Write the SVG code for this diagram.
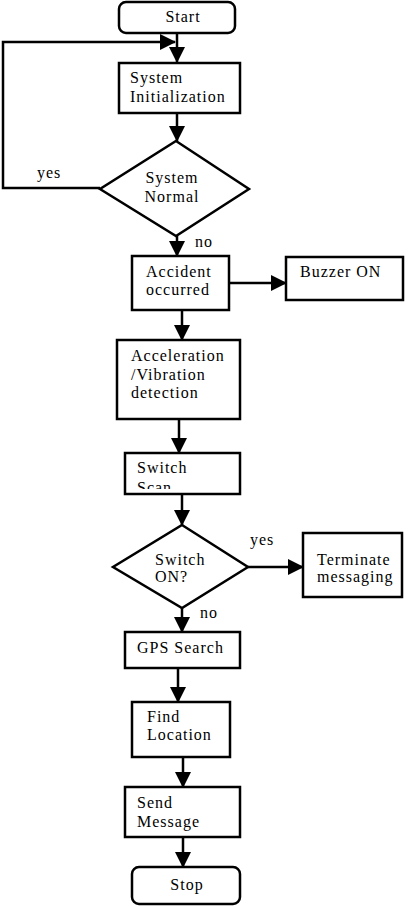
<svg xmlns="http://www.w3.org/2000/svg" width="414" height="906" viewBox="0 0 414 906">
<style>
.box{fill:#fff;stroke:#000;stroke-width:2.5}
.ln{fill:none;stroke:#000;stroke-width:2.5}
text{font-family:"Liberation Serif","Times New Roman",serif;font-size:16px;letter-spacing:1px;fill:#000}
.c{text-anchor:middle}
</style>
<defs>
<marker id="ah" markerUnits="userSpaceOnUse" markerWidth="16" markerHeight="16" refX="15" refY="8" orient="auto" viewBox="0 0 16 16">
<path d="M0,0 L16,8 L0,16 z" fill="#000"/>
</marker>
<clipPath id="scanclip"><rect x="125" y="453" width="115" height="36"/></clipPath>
</defs>
<rect width="414" height="906" fill="#fff"/>
<g id="connectors">
<line class="ln" x1="177" y1="33" x2="177" y2="62" marker-end="url(#ah)"/>
<polyline class="ln" points="100,188 3,188 3,42 175,42" marker-end="url(#ah)"/>
<line class="ln" x1="177" y1="113" x2="177" y2="141" marker-end="url(#ah)"/>
<line class="ln" x1="177" y1="236" x2="177" y2="256" marker-end="url(#ah)"/>
<line class="ln" x1="229" y1="283" x2="286" y2="283" marker-end="url(#ah)"/>
<line class="ln" x1="182" y1="310" x2="182" y2="340" marker-end="url(#ah)"/>
<line class="ln" x1="179" y1="419" x2="179" y2="453" marker-end="url(#ah)"/>
<line class="ln" x1="182" y1="494" x2="182" y2="525" marker-end="url(#ah)"/>
<line class="ln" x1="248" y1="567" x2="303" y2="567" marker-end="url(#ah)"/>
<line class="ln" x1="182" y1="608" x2="182" y2="632" marker-end="url(#ah)"/>
<line class="ln" x1="178" y1="668" x2="178" y2="702" marker-end="url(#ah)"/>
<line class="ln" x1="183" y1="757" x2="183" y2="787" marker-end="url(#ah)"/>
<line class="ln" x1="183" y1="837" x2="183" y2="867" marker-end="url(#ah)"/>
<text x="37" y="178">yes</text>
<text x="195" y="247">no</text>
<text x="250" y="545">yes</text>
<text x="200" y="618">no</text>
</g>
<g id="start">
<rect class="box" x="119" y="2" width="116" height="31" rx="7"/>
<text class="c" x="183" y="22">Start</text>
</g>
<g id="sysinit">
<rect class="box" x="119" y="63" width="121" height="50"/>
<text x="130" y="83">System</text>
<text x="130" y="102">Initialization</text>
</g>
<g id="sysnormal">
<polygon class="box" points="176,141 249,189 176,236 100,189"/>
<text class="c" x="172" y="183">System</text>
<text class="c" x="172" y="202">Normal</text>
</g>
<g id="accident">
<rect class="box" x="132" y="256" width="97" height="54"/>
<text x="146" y="277">Accident</text>
<text x="146" y="295">occurred</text>
</g>
<g id="buzzer">
<rect class="box" x="286" y="257" width="117" height="43"/>
<text x="300" y="277">Buzzer ON</text>
</g>
<g id="accel">
<rect class="box" x="117" y="340" width="123" height="79"/>
<text x="131" y="361">Acceleration</text>
<text x="131" y="380">/Vibration</text>
<text x="131" y="398">detection</text>
</g>
<g id="switchscan">
<rect class="box" x="125" y="453" width="115" height="41"/>
<text x="137" y="473">Switch</text>
<text x="137" y="493" clip-path="url(#scanclip)">Scan</text>
</g>
<g id="switchon">
<polygon class="box" points="182,525 248,567 182,608 113,567"/>
<text x="155" y="565">Switch</text>
<text x="155" y="582">ON?</text>
</g>
<g id="terminate">
<rect class="box" x="303" y="533" width="99" height="64"/>
<text x="317" y="565">Terminate</text>
<text x="317" y="582">messaging</text>
</g>
<g id="gps">
<rect class="box" x="125" y="632" width="115" height="36"/>
<text x="137" y="653">GPS Search</text>
</g>
<g id="find">
<rect class="box" x="132" y="702" width="98" height="55"/>
<text x="147" y="722">Find</text>
<text x="147" y="740">Location</text>
</g>
<g id="send">
<rect class="box" x="125" y="787" width="115" height="50"/>
<text x="137" y="808">Send</text>
<text x="137" y="827">Message</text>
</g>
<g id="stop">
<rect class="box" x="132" y="867" width="108" height="37" rx="7"/>
<text class="c" x="187" y="890">Stop</text>
</g>
</svg>
